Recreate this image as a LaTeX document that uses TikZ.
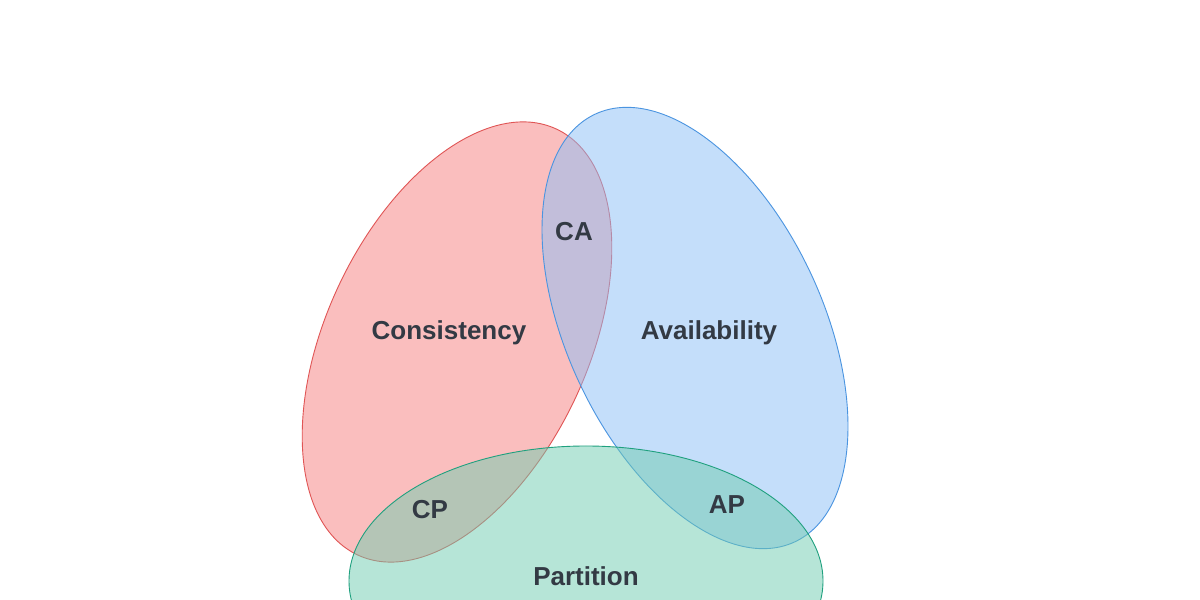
\documentclass[tikz,border=0pt]{standalone}
\usepackage{fontspec}
\setmainfont{Liberation Sans}
\definecolor{redf}{HTML}{F77F7F}\definecolor{redd}{HTML}{E05555}
\definecolor{bluef}{HTML}{8BBFF7}\definecolor{blued}{HTML}{4A94E0}
\definecolor{greenf}{HTML}{6FCCB0}\definecolor{greend}{HTML}{1FA07E}
\definecolor{txt}{HTML}{333A44}
\begin{document}
\begin{tikzpicture}[x=1pt,y=1pt,
  lbl/.style={font=\bfseries\fontsize{26}{38}\selectfont,text=txt,align=center}]
\useasboundingbox (0,0) rectangle (1200,600);
\clip (0,0) rectangle (1200,600);
\fill[white] (0,0) rectangle (1200,600);
\draw[redd,fill=redf,fill opacity=0.5,line width=0.9] (457,258) ellipse[x radius=131,y radius=235,rotate=-25];
\draw[blued,fill=bluef,fill opacity=0.5,line width=0.9] (695,272) ellipse[x radius=128,y radius=236,rotate=25];
\draw[greend,fill=greenf,fill opacity=0.5,line width=0.9] (586,19) ellipse[x radius=237,y radius=135];
\node[lbl] (ca) at (574,368) {CA};
\node[lbl] (c) at (449,267) {Consistency};
\node[lbl] (a) at (709,267) {Availability};
\node[lbl] (cp) at (430,90) {CP};
\node[lbl] (ap) at (727,95) {AP};
\node[lbl,anchor=north] (p) at (586,37) {Partition\\Tolerance};
\end{tikzpicture}
\end{document}
